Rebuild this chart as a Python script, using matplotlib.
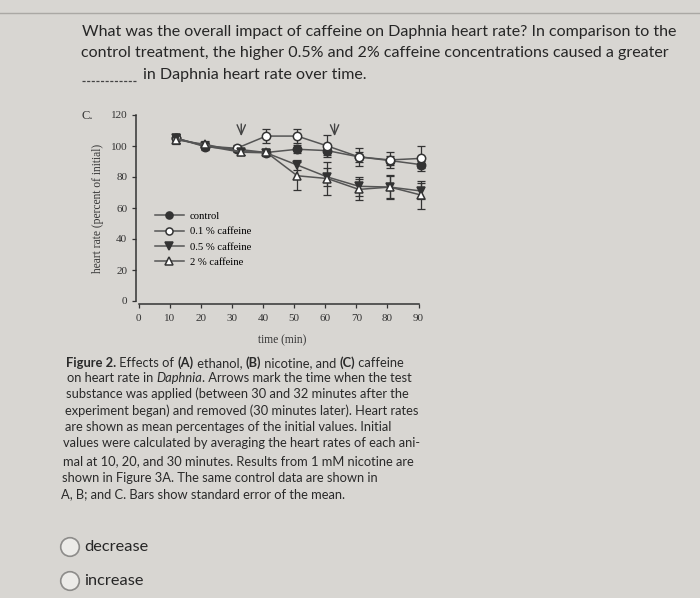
import matplotlib
matplotlib.use('Agg')
import matplotlib.pyplot as plt
from matplotlib.lines import Line2D
from matplotlib.patches import Circle
from matplotlib.transforms import IdentityTransform

W, H = 700, 598
BG = '#d8d6d2'
INK = '#333333'

## data
time_ctrl = [12, 21.5, 31.5, 41, 51, 60.7, 70.8, 80.8, 90.7]
time_caf = [12, 21.5, 33, 41, 51, 60.7, 70.8, 80.8, 90.7]
control = [105, 99.5, 98, 95.8, 97.9, 97, 93, 90.6, 88]
control_err = [3, 2, 2, 2, 2.5, 2.5, 3, 3, 2.5]
caf01 = [105, 100, 98.5, 106.4, 106.4, 100, 93, 91, 92]
caf01_err = [3, 2, 2, 4.5, 4.5, 7, 6, 5, 8]
caf05 = [105, 100, 96, 95.6, 87.7, 80, 74, 73.5, 71]
caf05_err = [3, 2, 2, 2, 3, 6, 6, 7, 5]
caf2 = [104, 101, 96.3, 96, 80.8, 79, 72, 73.5, 68.4]
caf2_err = [3, 2, 2, 2, 9, 10.5, 7, 8, 9]
labels = ['control', '0.1 % caffeine', '0.5 % caffeine', '2 % caffeine']
arrow_times = [33, 63]

question = ['What was the overall impact of caffeine on Daphnia heart rate? In comparison to the',
            'control treatment, the higher 0.5% and 2% caffeine concentrations caused a greater',
            'in Daphnia heart rate over time.']

caption = [
    [('Figure 2.', 'bold', 'normal'), (' Effects of ', 'normal', 'normal'), ('(A)', 'bold', 'normal'),
     (' ethanol, ', 'normal', 'normal'), ('(B)', 'bold', 'normal'), (' nicotine, and ', 'normal', 'normal'),
     ('(C)', 'bold', 'normal'), (' caffeine', 'normal', 'normal')],
    [('on heart rate in ', 'normal', 'normal'), ('Daphnia', 'normal', 'italic'),
     ('. Arrows mark the time when the test', 'normal', 'normal')],
    [('substance was applied (between 30 and 32 minutes after the', 'normal', 'normal')],
    [('experiment began) and removed (30 minutes later). Heart rates', 'normal', 'normal')],
    [('are shown as mean percentages of the initial values. Initial', 'normal', 'normal')],
    [('values were calculated by averaging the heart rates of each ani-', 'normal', 'normal')],
    [('mal at 10, 20, and 30 minutes. Results from 1 mM nicotine are', 'normal', 'normal')],
    [('shown in Figure 3A. The same control data are shown in', 'normal', 'normal')],
    [('A, B; and C. Bars show standard error of the mean.', 'normal', 'normal')],
]
caption_x = [66, 67, 66, 65, 65, 63, 63, 62, 61]
caption_y = [363, 378, 394, 411, 427, 443, 461, 478, 494]
options = ['decrease', 'increase']


def fx(px):
    return px / W


def fy(py):
    return 1 - py / H


fig = plt.figure(figsize=(W / 100, H / 100), dpi=100, facecolor=BG)
renderer = fig.canvas.get_renderer()

## top edge of the page
fig.add_artist(Line2D([0, 1], [fy(13), fy(13)], color='#aaa8a4', lw=1))

## question
qfont = dict(family='Lato', size=11.5, color='#262626', va='center')
fig.text(fx(82), fy(32), question[0], **qfont)
fig.text(fx(81), fy(53), question[1], **qfont)
fig.text(fx(143), fy(75), question[2], **qfont)
fig.add_artist(Line2D([fx(82), fx(137)], [fy(81), fy(81)], color='#444444', lw=0.9, ls=(0, (2.5, 1.2))))

## chart
ax = fig.add_axes([135.5 / W, 1 - 304.1 / H, 292.4 / W, 192.2 / H])
ax.set_facecolor('none')
ax.set_xlim(-1, 93)
ax.set_ylim(-2, 122)

series = [(time_ctrl, control, control_err, 'o', INK),
          (time_ctrl, caf01, caf01_err, 'o', 'white'),
          (time_caf, caf05, caf05_err, 'v', INK),
          (time_caf, caf2, caf2_err, '^', 'white')]
handles = []
for (t, y, e, m, fc), lab in zip(series, labels):
    ax.errorbar(t, y, yerr=e, fmt='none', ecolor=INK, elinewidth=0.9, capsize=2.8, capthick=0.9, clip_on=False)
    h, = ax.plot(t, y, color='#555555', lw=1.1, marker=m, ms=6, mfc=fc, mec=INK, mew=1.1, label=lab, clip_on=False)
    handles.append(h)

for t in arrow_times:
    ax.annotate('', xy=(t, 104.5), xytext=(t, 116),
                arrowprops=dict(arrowstyle='->,head_length=0.7,head_width=0.3', color='#444444', lw=1))

ax.legend(handles=handles, loc='upper left', bbox_to_anchor=(0.066, 0.482), frameon=False,
          borderpad=0, borderaxespad=0, handlelength=2.7, handletextpad=0.6, labelspacing=0.55,
          markerscale=0.85, prop=dict(family='Liberation Serif', size=7.7))

for s in ['top', 'right']:
    ax.spines[s].set_visible(False)
ax.spines['left'].set_bounds(0, 120)
ax.spines['bottom'].set_bounds(0, 90)
for s in ['left', 'bottom']:
    ax.spines[s].set_color(INK)
    ax.spines[s].set_linewidth(1.1)
ax.set_xticks(range(0, 91, 10))
ax.set_yticks(range(0, 121, 20))
ax.tick_params(length=3, width=0.9, color=INK, labelcolor=INK, labelsize=8)
ax.tick_params(axis='y', pad=3)
ax.tick_params(axis='x', pad=4)
for lbl in ax.get_xticklabels() + ax.get_yticklabels():
    lbl.set_family('Liberation Serif')
ax.set_ylabel('heart rate (percent of initial)', family='Liberation Serif', size=8.3, color=INK, labelpad=5)
ax.set_xlabel('time (min)', family='Liberation Serif', size=8.3, color=INK, labelpad=8)
fig.text(fx(87), fy(116), 'C.', family='Liberation Serif', size=9, color=INK, va='center', ha='center')

## caption with mixed bold / italic pieces
for parts, x0, y0 in zip(caption, caption_x, caption_y):
    x = x0
    for s, wgt, sty in parts:
        t = fig.text(fx(x), fy(y0), s, family='Lato', size=9.3, weight=wgt, style=sty,
                     color='#2a2a2a', va='center')
        x += t.get_window_extent(renderer).width

## answer options
for i, opt in enumerate(options):
    cy = 547 + 34 * i
    fig.add_artist(Circle((70, H - cy), 9.3, transform=IdentityTransform(),
                          facecolor='#ecebe8', edgecolor='#8d8c8a', lw=1.2))
    fig.text(fx(84), fy(cy), opt, family='Lato', size=11.8, color='#262626', va='center')

fig.savefig('out.png', dpi=100, facecolor=BG)
